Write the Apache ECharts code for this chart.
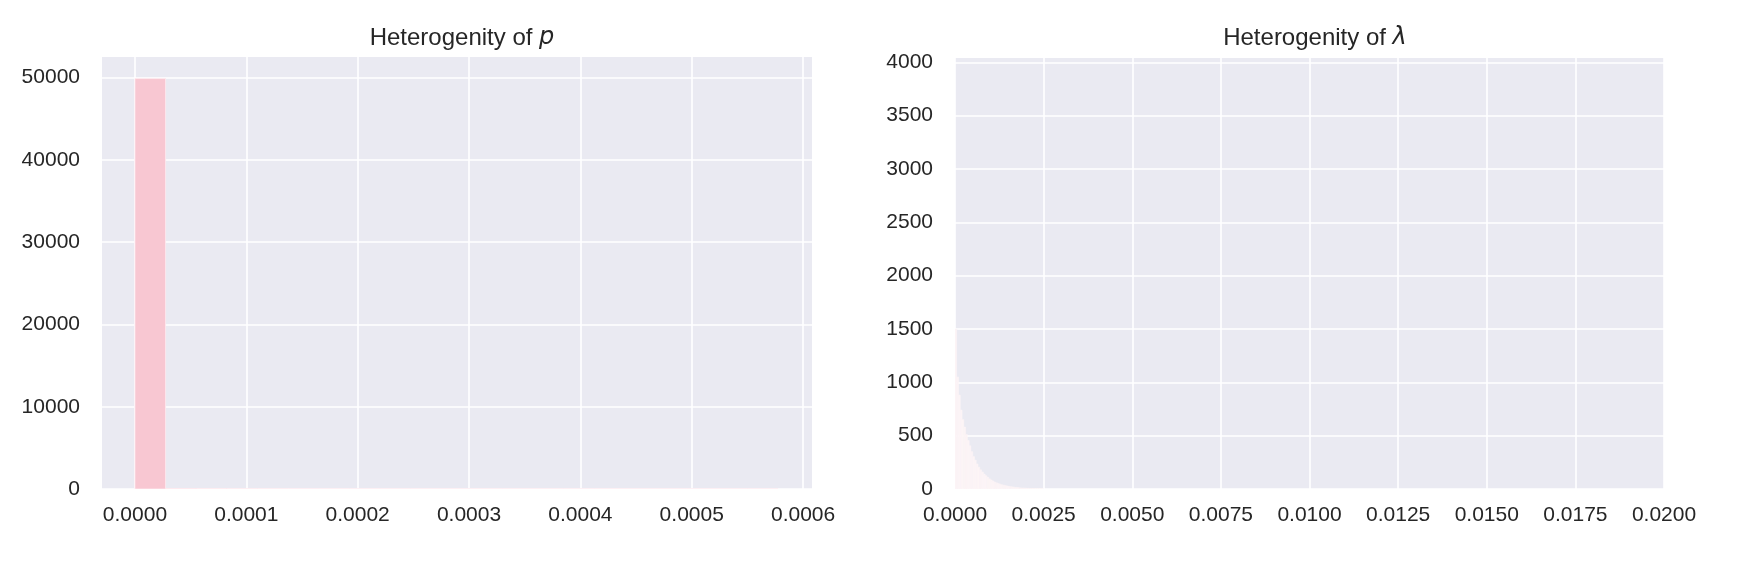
<!DOCTYPE html>
<html>
<head>
<meta charset="utf-8">
<script src="https://cdn.jsdelivr.net/npm/echarts@6/dist/echarts.min.js"></script>
<style>
html,body{margin:0;padding:0;background:#fff;}
#chart{width:1752px;height:570px;}
</style>
</head>
<body>
<div id="chart"></div>
<script>
// ---- Left panel: Heterogenity of p (histogram) ----
const pBinEdges = [0, 0.0000275, 0.000055, 0.0000825, 0.00011, 0.0001375, 0.000165, 0.0001925,
  0.00022, 0.0002475, 0.000275, 0.0003025, 0.00033, 0.0003575, 0.000385, 0.0004125,
  0.00044, 0.0004675, 0.000495, 0.0005225, 0.00055, 0.0005775];
const pCounts = [49880, 60, 25, 12, 7, 4, 3, 2, 1, 1, 1, 0, 1, 0, 0, 1, 0, 0, 0, 0, 1];
const pTicksX = [0, 0.0001, 0.0002, 0.0003, 0.0004, 0.0005, 0.0006];
const pTicksY = [0, 10000, 20000, 30000, 40000, 50000];

// ---- Right panel: Heterogenity of lambda (histogram) ----
const lambdaBinEdges = [0, 0.00005, 0.0001, 0.00015, 0.0002, 0.00025, 0.0003, 0.00035, 0.0004, 0.00045,
  0.0005, 0.00055, 0.0006, 0.00065, 0.0007, 0.00075, 0.0008, 0.00085, 0.0009, 0.00095,
  0.001, 0.00105, 0.0011, 0.00115, 0.0012, 0.00125, 0.0013, 0.00135, 0.0014, 0.00145,
  0.0015, 0.00155, 0.0016, 0.00165, 0.0017, 0.00175, 0.0018, 0.00185, 0.0019, 0.00195,
  0.002, 0.00205, 0.0021, 0.00215, 0.0022, 0.00225, 0.0023, 0.00235, 0.0024, 0.00245, 0.0025];
const lambdaCounts = [1500, 1050, 880, 740, 650, 580, 510, 455, 405, 350,
  305, 270, 235, 205, 180, 160, 140, 125, 110, 95,
  84, 74, 66, 58, 51, 45, 40, 36, 32, 28,
  25, 22, 20, 17, 15, 13, 11, 10, 9, 8,
  7, 6, 5, 4, 4, 3, 3, 2, 2, 1];
const lambdaTicksX = [0, 0.0025, 0.005, 0.0075, 0.01, 0.0125, 0.015, 0.0175, 0.02];
const lambdaTicksY = [0, 500, 1000, 1500, 2000, 2500, 3000, 3500, 4000];

const FONT = "'Liberation Sans', Arial, Helvetica, sans-serif";
const TXT = '#262626';

function histData(edges, counts) {
  return counts.map((c, i) => [edges[i], edges[i + 1], c]);
}
function makeRender(fill, stroke, lw) {
  return function (params, api) {
    const a = api.coord([api.value(0), 0]);
    const b = api.coord([api.value(1), api.value(2)]);
    return {
      type: 'rect',
      shape: { x: a[0], y: b[1], width: b[0] - a[0], height: a[1] - b[1] },
      style: { fill: fill, stroke: stroke, lineWidth: lw }
    };
  };
}
function xAxisCfg(idx, min, max, ticks) {
  return {
    type: 'value', gridIndex: idx, min: min, max: max,
    axisLine: { show: false },
    axisTick: { show: false, customValues: ticks },
    axisLabel: { customValues: ticks, formatter: v => v.toFixed(4), fontSize: 21, color: TXT, fontFamily: FONT, margin: 16 },
    splitLine: { show: true, lineStyle: { color: '#ffffff', width: 1.6 } }
  };
}
function yAxisCfg(idx, min, max, ticks) {
  return {
    type: 'value', gridIndex: idx, min: min, max: max,
    axisLine: { show: false },
    axisTick: { show: false, customValues: ticks },
    axisLabel: { customValues: ticks, formatter: v => String(v), fontSize: 21, color: TXT, fontFamily: FONT, margin: 22 },
    splitLine: { show: true, lineStyle: { color: '#ffffff', width: 1.6 } }
  };
}

const chart = echarts.init(document.getElementById('chart'));
chart.setOption({
  animation: false,
  backgroundColor: '#ffffff',
  title: [
    {
      text: 'Heterogenity of {i|p}', left: 457, top: 21, textAlign: 'center',
      textStyle: { fontSize: 24, fontWeight: 'normal', color: TXT, fontFamily: FONT,
        rich: { i: { fontSize: 24, fontStyle: 'italic', fontFamily: "'DejaVu Sans'", color: TXT } } }
    },
    {
      text: 'Heterogenity of {i|λ}', left: 1310, top: 21, textAlign: 'center',
      textStyle: { fontSize: 24, fontWeight: 'normal', color: TXT, fontFamily: FONT,
        rich: { i: { fontSize: 24, fontStyle: 'italic', fontFamily: "'DejaVu Sans'", color: TXT } } }
    }
  ],
  grid: [
    { left: 102, right: 940, top: 57, bottom: 81, show: true, backgroundColor: '#EAEAF2', borderWidth: 0 },
    { left: 955, right: 88, top: 58, bottom: 81, show: true, backgroundColor: '#EAEAF2', borderWidth: 0 }
  ],
  xAxis: [
    xAxisCfg(0, -0.0000296, 0.000608, pTicksX),
    xAxisCfg(1, 0, 0.02, lambdaTicksX)
  ],
  yAxis: [
    yAxisCfg(0, 0, 52500, pTicksY),
    yAxisCfg(1, 0, 4040, lambdaTicksY)
  ],
  series: [
    {
      type: 'custom', xAxisIndex: 0, yAxisIndex: 0, clip: true,
      renderItem: makeRender('#F8C7D2', 'rgba(255,235,240,0.8)', 1),
      encode: { x: [0, 1], y: 2 },
      data: histData(pBinEdges, pCounts)
    },
    {
      type: 'custom', xAxisIndex: 1, yAxisIndex: 1, clip: true,
      renderItem: makeRender('#FCF4F6', '#FCF4F6', 0.5),
      encode: { x: [0, 1], y: 2 },
      data: histData(lambdaBinEdges, lambdaCounts)
    }
  ]
});
</script>
</body>
</html>
